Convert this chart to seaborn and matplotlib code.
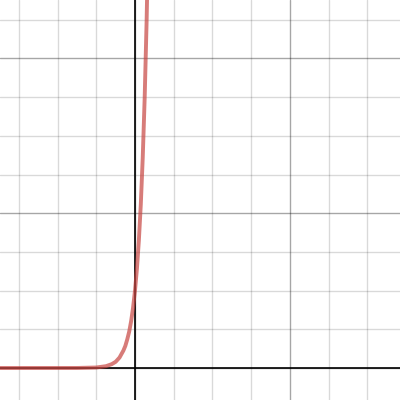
import matplotlib
matplotlib.use("Agg")
import matplotlib.pyplot as plt
import seaborn as sns
import pandas as pd
import numpy as np

xs = [-3.6, -1.5, -1.0, -0.75, -0.6, -0.5, -0.4, -0.3, -0.25, -0.2, -0.15, -0.1, -0.05, 0.0, 0.05, 0.1, 0.15, 0.2, 0.25, 0.3, 0.35]
ys = [0.0, 0.001, 0.013, 0.047, 0.10, 0.16, 0.27, 0.45, 0.57, 0.74, 0.94, 1.21, 1.56, 2.0, 2.57, 3.3, 4.23, 5.44, 6.98, 8.96, 11.5]

sns.set_style("white")
fig = plt.figure(figsize=(4, 4), dpi=100)
ax = fig.add_axes([0, 0, 1, 1])
x0, x1 = -135/38.7, 265/38.7
y0, y1 = -32/38.7, 368/38.7
for v in range(-3, 7):
    ax.axvline(v, color="#000000", alpha=0.35 if v % 4 == 0 else 0.15, lw=1, zorder=0)
for v in range(0, 10):
    ax.axhline(v, color="#000000", alpha=0.35 if v % 4 == 0 else 0.15, lw=1, zorder=0)
ax.axvline(0, color="black", lw=1.2, zorder=1)
ax.axhline(0, color="black", lw=1.2, zorder=1)
df = pd.DataFrame({"x": xs, "y": ys})
sns.lineplot(data=df, x="x", y="y", ax=ax, color="#c74440", alpha=0.7, lw=2.8, zorder=2)
ax.set_xlim(x0, x1)
ax.set_ylim(y0, y1)
ax.set_xticks([]); ax.set_yticks([])
ax.set_xlabel(""); ax.set_ylabel("")
for s in ax.spines.values():
    s.set_visible(False)
fig.savefig("out.png", dpi=100)
